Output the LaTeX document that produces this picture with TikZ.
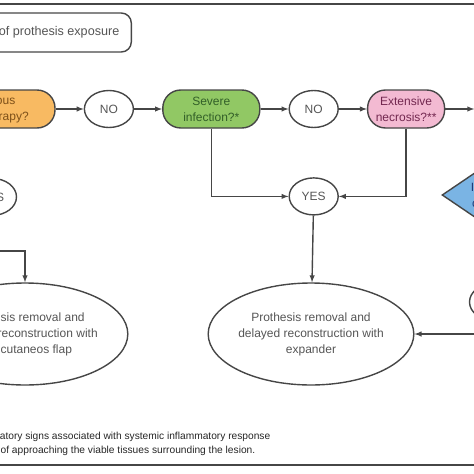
\documentclass[tikz,border=0pt]{standalone}
\usepackage{fontspec}
\setmainfont{Liberation Sans}
\definecolor{lin}{RGB}{70, 70, 70}
\definecolor{txt}{RGB}{85, 85, 85}
\definecolor{org}{RGB}{248, 186, 98}
\definecolor{orgtxt}{RGB}{125, 80, 25}
\definecolor{grn}{RGB}{145, 200, 100}
\definecolor{grntxt}{RGB}{50, 95, 40}
\definecolor{pnk}{RGB}{243, 186, 210}
\definecolor{pnktxt}{RGB}{115, 40, 80}
\definecolor{blu}{RGB}{122, 180, 228}
\definecolor{blutxt}{RGB}{30, 60, 120}
\usetikzlibrary{arrows, shapes.geometric, positioning}

\begin{document}
\begin{tikzpicture}[x=1pt, y=-1pt, thick, >=latex, node distance=28pt,
  every node/.style={font=\fontsize{12}{16}\selectfont, text=txt, align=center},
  qbox/.style={draw=lin, line width=1.4pt, rounded corners=18pt, minimum height=38pt, inner sep=2pt},
  ans/.style={draw=lin, line width=1.4pt, ellipse, minimum width=49pt, minimum height=37pt, inner sep=0pt},
  act/.style={draw=lin, line width=1.4pt, ellipse, minimum width=176pt, minimum height=102pt, inner sep=0pt},
  link/.style={->, draw=lin, line width=1.4pt},
  note/.style={anchor=base east, font=\fontsize{10.2}{12}\selectfont, text=black!85}]

\clip (0,0) rectangle (474,474);
\draw[lin, line width=1.6pt] (-50,4) rectangle (524,465);

% title
\node[qbox, rounded corners=10pt, anchor=east, inner xsep=12pt, minimum height=39pt,
      font=\fontsize{12.6}{16}\selectfont] (title) at (132,32.5) {Management of prothesis exposure};

% questions
\node[qbox, fill=org, text=orgtxt, minimum width=126pt] (Q1) at (-8,109) {Previous\\radiotherapy?};
\node[ans] (N1) [right=of Q1] {NO};
\node[qbox, fill=grn, text=grntxt, minimum width=97pt] (Q2) [right=of N1] {Severe\\infection?*};
\node[ans] (N2) [right=of Q2] {NO};
\node[qbox, fill=pnk, text=pnktxt, minimum width=77pt] (Q3) [right=of N2] {Extensive\\necrosis?**};
\node[ans] (N3) [right=29pt of Q3] {NO};

\node[ans] (Y1) [below=49pt of Q1] {YES};
\node[ans] (Y2) [below=49pt of N2] {YES};
\node[diamond, draw=lin, line width=1.4pt, fill=blu, text=blutxt, inner sep=0pt,
      minimum width=103pt, minimum height=70pt, aspect=1.47] (D) at (493.5,195) {Infection\\control?};
\node[ans] (Y3) at (494,302) {YES};

% outcomes
\node[act] (R1) at (25,334) {Prothesis removal and\\delayed reconstruction with\\myocutaneos flap};
\node[act] (R2) at (311,334) {Prothesis removal and\\delayed reconstruction with\\expander};
\coordinate (in2) at (500,334);

\path (Q1) edge [link] (N1)
      (N1) edge [link] (Q2)
      (Q2) edge [link] (N2)
      (N2) edge [link] (Q3)
      (Q3) edge [link] (N3)
      (Q1) edge [link] (Y1)
      (N3) edge [link] (D)
      (D)  edge [link] (Y3)
      (Y2) edge [link] (R2)
      (in2) edge [link] (R2.east)
      ;
\draw[link] (Q2) |- (Y2);
\draw[link] (Q3) |- (Y2);
\draw[link] (Y1.south) -- ++(0,35) -| (R1.north);

% notes
\node[note] (note1) at (274,439.5)
  {*Local inflammatory signs associated with systemic inflammatory response};
\node[note] (note2) at (259,453.5)
  {**Impossibility of approaching the viable tissues surrounding the lesion.};

\end{tikzpicture}
\end{document}
